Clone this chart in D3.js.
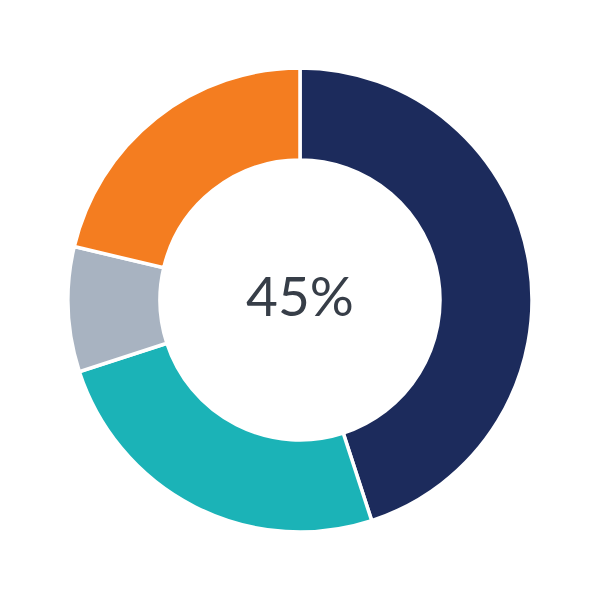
<!DOCTYPE html>
<html>
<head>
<meta charset="utf-8">
<script src="https://cdn.jsdelivr.net/npm/d3@7"></script>
<style>
  html, body { margin: 0; padding: 0; background: #ffffff; }
  svg { display: block; }
</style>
</head>
<body>
<svg id="chart" width="600" height="600"></svg>
<script>
const categories = ["A", "B", "C", "D"];
const values = [45, 25, 8.7, 21.3];
const colors = ["#1c2b5c", "#1bb3b7", "#a8b3c1", "#f47d20"];
const centerLabel = "45%";

const svg = d3.select("#chart");
const g = svg.append("g").attr("transform", "translate(300,300)");

const pie = d3.pie().sort(null).value(d => d.value);
const arc = d3.arc().innerRadius(140).outerRadius(232);

const data = categories.map((c, i) => ({ cat: c, value: values[i], color: colors[i] }));

g.selectAll("path")
  .data(pie(data))
  .join("path")
  .attr("d", arc)
  .attr("fill", d => d.data.color)
  .attr("stroke", "#ffffff")
  .attr("stroke-width", 3.5);

g.append("text")
  .attr("text-anchor", "middle")
  .attr("y", 16)
  .attr("font-family", "Lato, sans-serif")
  .attr("font-size", 55)
  .attr("fill", "#373e48")
  .text(centerLabel);
</script>
</body>
</html>
